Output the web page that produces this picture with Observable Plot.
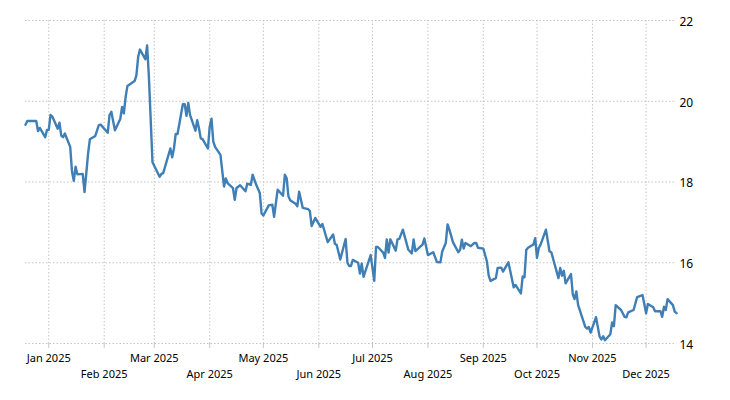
<!DOCTYPE html>
<html><head><meta charset="utf-8">
<script src="https://cdn.jsdelivr.net/npm/d3@7"></script>
<script src="https://cdn.jsdelivr.net/npm/@observablehq/plot@0.6"></script>
<style>html,body{margin:0;padding:0;background:#fff}svg{display:block}</style>
</head><body><div id="chart"></div>
<script>
// days since 2025-01-01
const dayOffsets = [-13,-12,-7,-6,-5,-2,-1,0,1,2,5,6,7,8,9,12,13,14,15,16,19,20,21,22,23,26,28,29,33,34,35,37,40,41,42,43,44,48,49,50,51,54,55,56,58,62,63,64,68,69,70,71,72,75,76,77,78,79,82,83,84,85,86,89,90,91,92,93,96,98,99,100,103,104,105,107,110,111,113,114,116,118,119,120,123,125,126,128,131,132,133,134,135,138,139,140,142,145,146,147,149,152,153,156,159,160,161,163,166,167,168,169,170,173,174,175,176,180,182,183,184,187,188,189,190,191,194,195,196,198,201,203,204,205,209,210,212,215,217,219,220,222,223,224,226,229,230,231,232,233,236,238,239,240,243,245,246,247,250,251,253,254,257,260,261,264,265,266,267,268,271,272,273,274,275,278,280,281,285,286,287,288,289,292,293,294,295,296,300,301,302,303,306,308,309,310,311,314,315,316,317,320,322,323,324,327,329,332,334,335,338,339,342,343,344,345,346,349,350,351];
const values = [19.42,19.51,19.51,19.26,19.34,19.11,19.29,19.29,19.66,19.62,19.32,19.47,19.15,19.11,19.20,18.87,18.26,18.03,18.38,18.19,18.20,17.75,18.22,18.71,19.06,19.14,19.41,19.42,19.22,19.66,19.74,19.28,19.56,19.86,19.70,20.11,20.38,20.50,20.64,21.10,21.28,21.04,21.38,20.60,18.49,18.13,18.20,18.22,18.83,18.61,18.83,19.19,19.19,19.93,19.93,19.64,19.96,19.66,19.27,19.53,19.33,19.08,19.06,18.83,19.37,19.57,19.00,18.87,18.67,17.89,18.09,17.97,17.85,17.56,17.85,17.92,17.77,17.96,17.93,18.18,17.93,17.73,17.22,17.17,17.42,17.44,17.14,17.81,17.66,18.18,18.10,17.65,17.55,17.46,17.40,17.76,17.36,17.33,17.28,16.91,17.11,16.89,16.96,16.51,16.70,16.47,16.44,16.08,16.59,16.00,15.92,15.92,16.07,16.00,15.73,15.98,15.65,16.19,15.55,16.39,16.39,16.25,16.12,16.58,16.25,16.58,16.30,16.58,16.59,16.82,16.33,16.23,16.58,16.29,16.45,16.60,16.19,16.26,16.02,16.01,16.28,16.49,16.95,16.82,16.51,16.26,16.32,16.57,16.35,16.49,16.41,16.49,16.49,16.37,16.35,16.03,15.68,15.55,15.62,15.87,15.88,15.78,16.01,15.39,15.45,15.24,15.66,15.64,16.32,16.37,16.45,16.61,16.12,16.37,16.45,16.82,16.28,16.26,15.62,15.87,15.68,15.80,15.49,15.72,15.22,15.10,15.29,14.95,14.41,14.37,14.41,14.27,14.65,14.17,14.10,14.18,14.08,14.23,14.52,14.43,14.95,14.83,14.66,14.65,14.77,14.83,15.15,15.20,14.75,14.98,14.90,14.80,14.80,14.66,14.91,14.83,15.10,14.95,14.79,14.75];
const monthTicksUpper = ["2025-01-01","2025-03-01","2025-05-01","2025-07-01","2025-09-01","2025-11-01"];
const monthTicksLower = ["2025-02-01","2025-04-01","2025-06-01","2025-08-01","2025-10-01","2025-12-01"];
const yTicks = [14,16,18,20,22];

const start = new Date("2025-01-01T00:00:00Z");
const series = dayOffsets.map((d,i)=>({date:d3.utcDay.offset(start,d),value:values[i]}));
const upper = monthTicksUpper.map(s=>new Date(s+"T00:00:00Z"));
const lower = monthTicksLower.map(s=>new Date(s+"T00:00:00Z"));
const allTicks = upper.concat(lower);
const fmt = d3.utcFormat("%b %Y");
const grid = "#c4c4c4", dash = "1.5,2", font = "Noto Sans";

const chart = Plot.plot({
  width:730, height:400,
  marginTop:20, marginBottom:57, marginLeft:25, marginRight:54,
  style:{background:"#fff",fontFamily:font,fontSize:"11px",color:"#111"},
  x:{type:"utc",domain:[series[0].date,series[series.length-1].date]},
  y:{type:"linear",domain:[14,22]},
  marks:[
    Plot.ruleY(yTicks,{stroke:grid,strokeWidth:1,strokeDasharray:dash}),
    Plot.ruleX(allTicks,{stroke:grid,strokeWidth:1,strokeDasharray:dash}),
    Plot.ruleX(allTicks,{y1:14,y2:13.88,stroke:grid,strokeWidth:1}),
    Plot.axisX({ticks:upper,anchor:"bottom",tickSize:0,tickPadding:11,tickFormat:fmt,label:null,fill:"#000"}),
    Plot.axisX({ticks:lower,anchor:"bottom",tickSize:0,tickPadding:27,tickFormat:fmt,label:null,fill:"#000"}),
    Plot.axisY({ticks:yTicks,anchor:"right",tickSize:0,tickPadding:3,label:null,fill:"#000",fontSize:12,dy:1.5}),
    Plot.line(series,{x:"date",y:"value",stroke:"#3f7fb5",strokeWidth:2.4,curve:"linear",strokeLinejoin:"round"})
  ]
});
document.getElementById("chart").append(chart);
</script></body></html>
